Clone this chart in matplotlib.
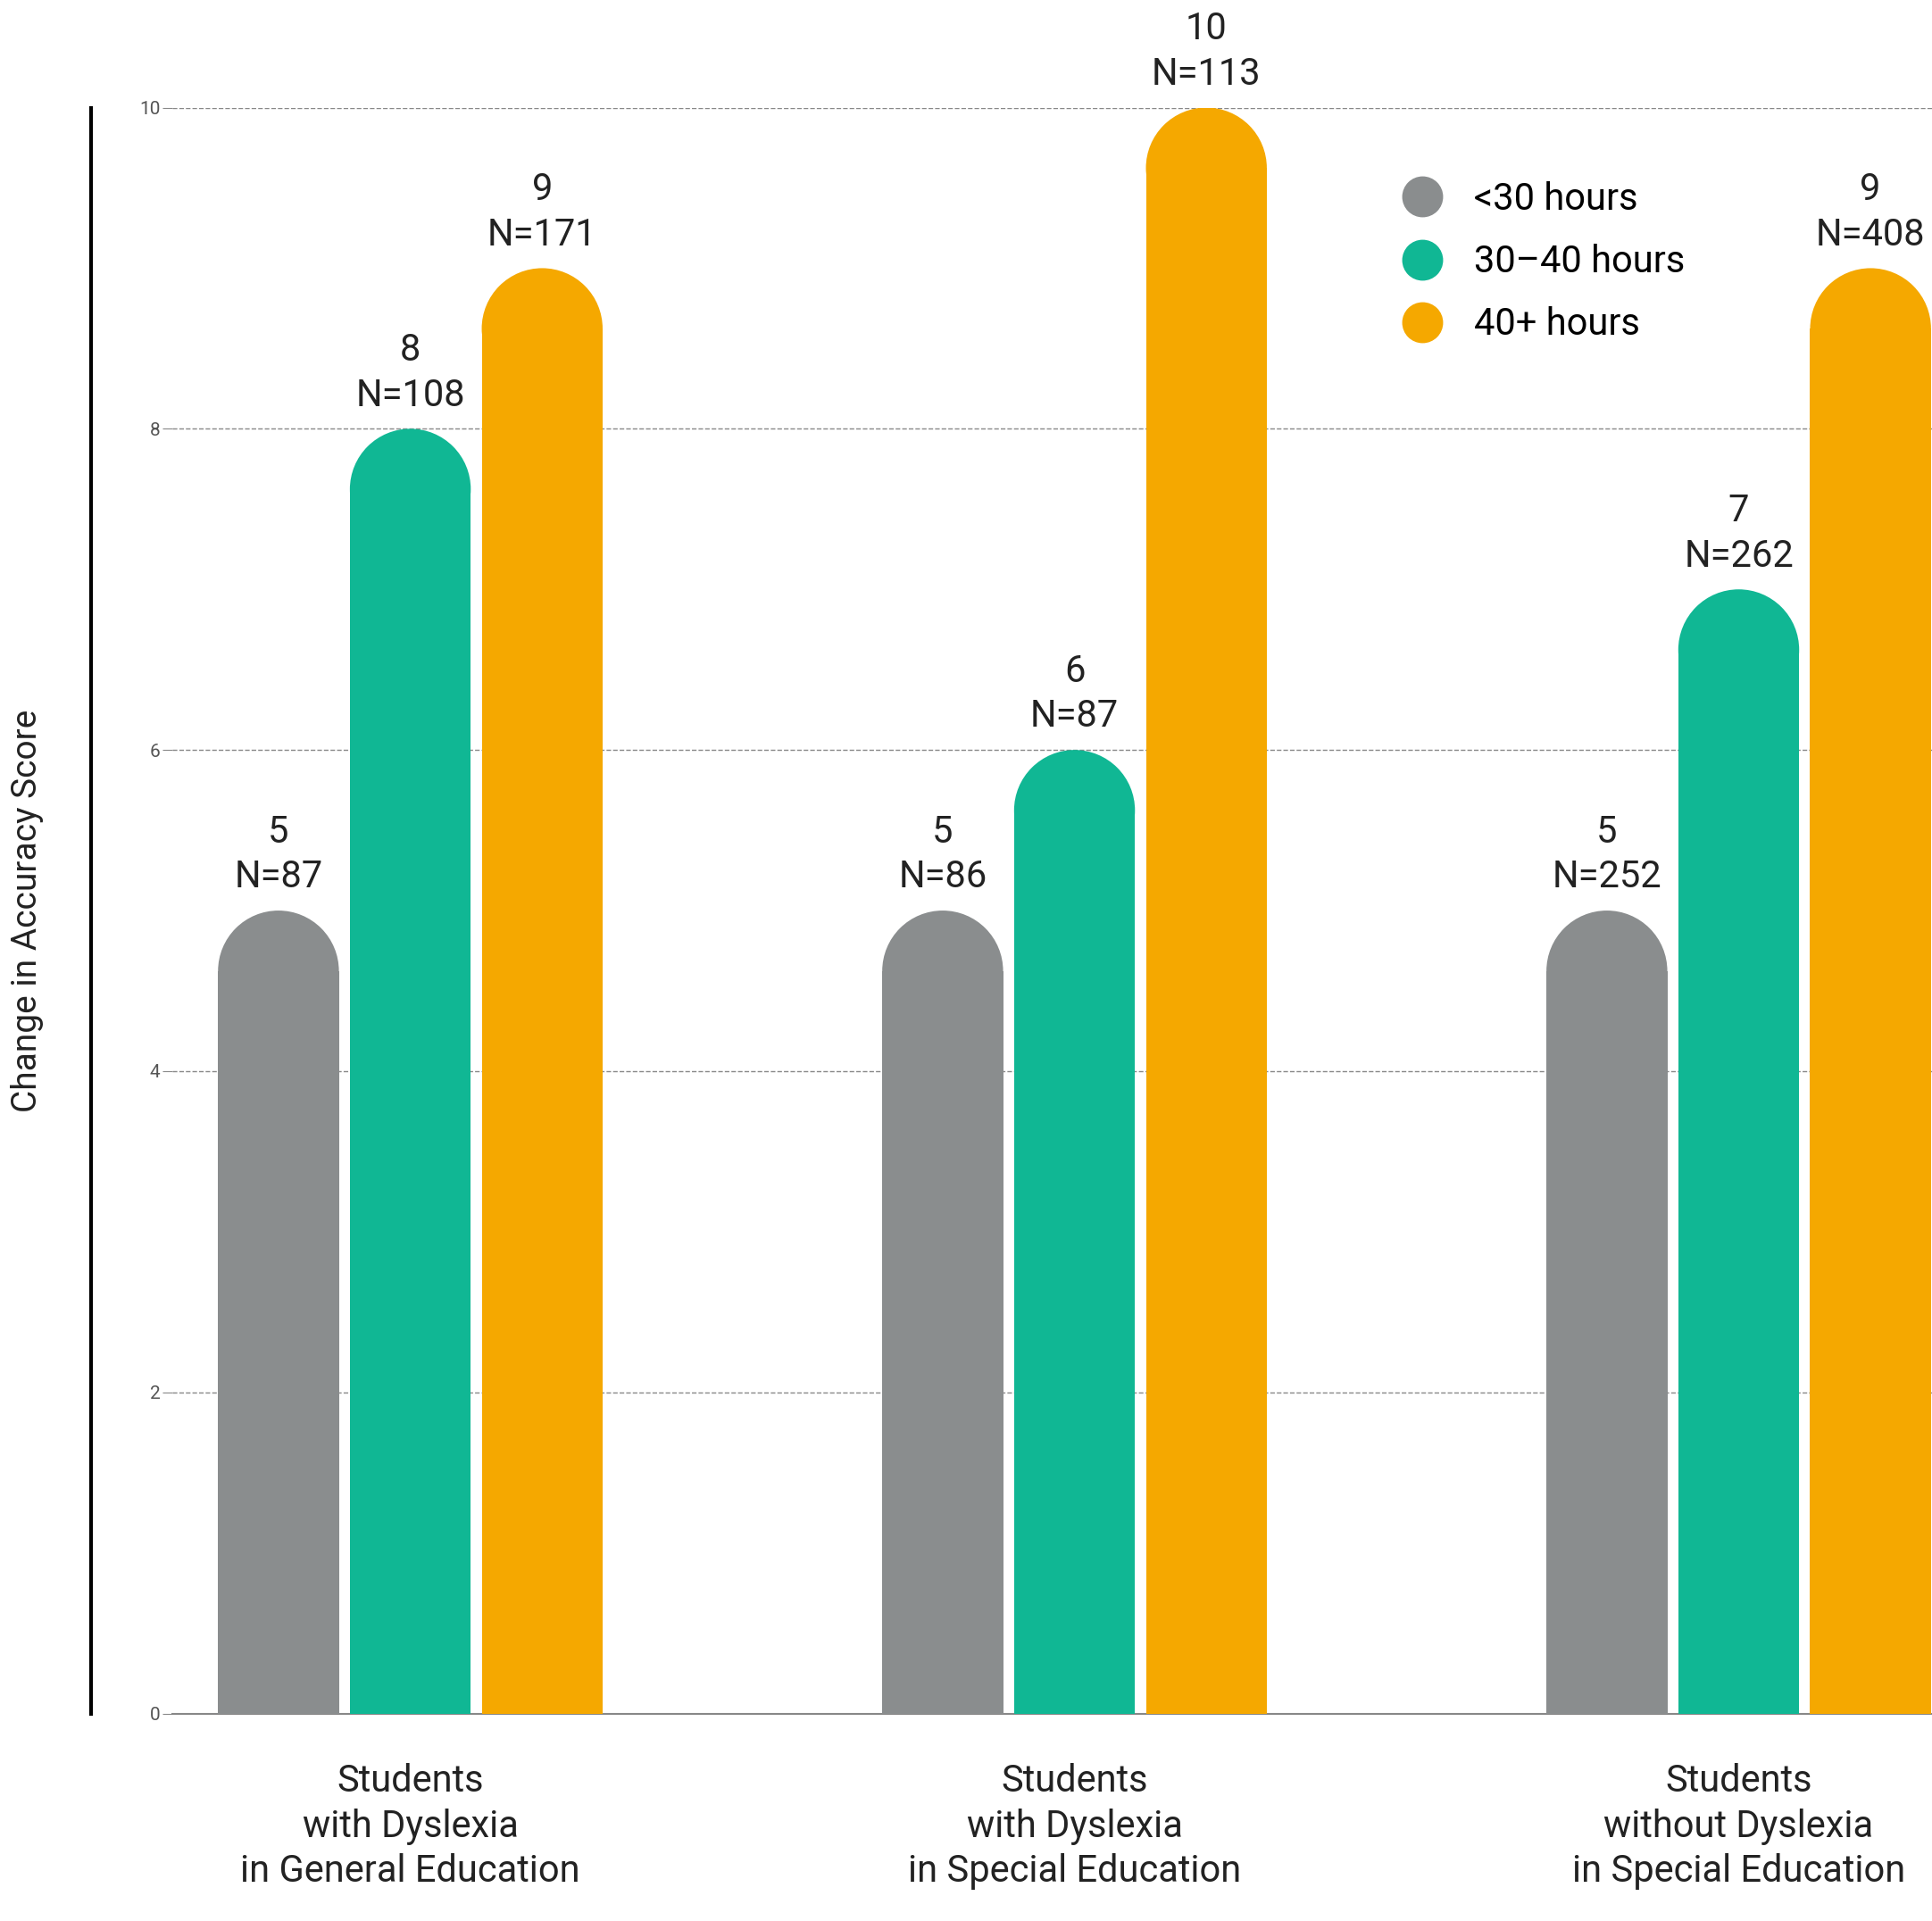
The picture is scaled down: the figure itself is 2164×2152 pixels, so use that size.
import numpy as np
import matplotlib.pyplot as plt
from matplotlib.patches import Rectangle, Ellipse
from matplotlib.lines import Line2D

plt.rcParams['font.family'] = ['Liberation Sans Narrow', 'DejaVu Sans Condensed', 'Roboto', 'DejaVu Sans']

groups = ["Students\nwith Dyslexia\nin General Education",
          "Students\nwith Dyslexia\nin Special Education",
          "Students\nwithout Dyslexia\nin Special Education"]
series = ["<30 hours", "30\u201340 hours", "40+ hours"]
colors = ["#8a8d8e", "#10b794", "#f5a800"]
values = [[5, 5, 5], [8, 6, 7], [9, 10, 9]]
counts = [[87, 86, 252], [108, 87, 262], [171, 113, 408]]

fig = plt.figure(figsize=(21.64, 21.52), dpi=100)
ax = fig.add_axes([0.0893, 0.108, 0.9107, 0.836])
xlim = (-0.358, 2.291)
ylim = (0, 10)
ax.set_xlim(*xlim)
ax.set_ylim(*ylim)

width = 0.182
offset = 0.1985
# y-units per x-unit so caps are round
ax_w = 0.9107 * 2164
ax_h = 0.836 * 2152
ry = (width / 2) / (xlim[1] - xlim[0]) * ax_w / ax_h * (ylim[1] - ylim[0])

for i, s in enumerate(series):
    for g in range(len(groups)):
        x = g + (i - 1) * offset
        v = values[i][g]
        ax.add_patch(Rectangle((x - width / 2, 0), width, v - ry, color=colors[i], lw=0, zorder=3))
        ax.add_patch(Ellipse((x, v - ry), width, 2 * ry, color=colors[i], lw=0, zorder=3))
        ax.annotate(f"{v}\nN={counts[i][g]}", (x, v), xytext=(0, 12), textcoords="offset points",
                    ha="center", va="bottom", fontsize=30, linespacing=1.3,
                    annotation_clip=False, color="#222222")

ax.set_yticks(np.arange(0, 11, 2))
ax.tick_params(axis="y", labelsize=15, labelcolor="#555555", color="#888888", length=8, pad=2)
ax.yaxis.grid(True, linestyle="--", color="#888888", lw=1, zorder=0)
ax.set_axisbelow(True)
ax.set_xticks(range(len(groups)))
ax.set_xticklabels(groups, fontsize=30, linespacing=1.3, color="#222222")
ax.tick_params(axis="x", length=0, pad=40)
for sp in ["top", "right", "left"]:
    ax.spines[sp].set_visible(False)
ax.spines["bottom"].set_color("#888888")
ax.spines["bottom"].set_linewidth(1.5)

fig.add_artist(Line2D([0.047, 0.047], [0.108, 0.944], color="black", lw=3))
fig.text(0.014, 0.526, "Change in Accuracy Score", rotation=90, ha="center", va="center",
         fontsize=28, color="#222222")

handles = [Line2D([], [], marker="o", ls="", markersize=32, color=c) for c in colors]
ax.legend(handles, series, loc="upper left", bbox_to_anchor=(0.67, 0.975), frameon=False,
          fontsize=30, handletextpad=0.4, labelspacing=0.7)

fig.savefig("out.png", dpi=100)
